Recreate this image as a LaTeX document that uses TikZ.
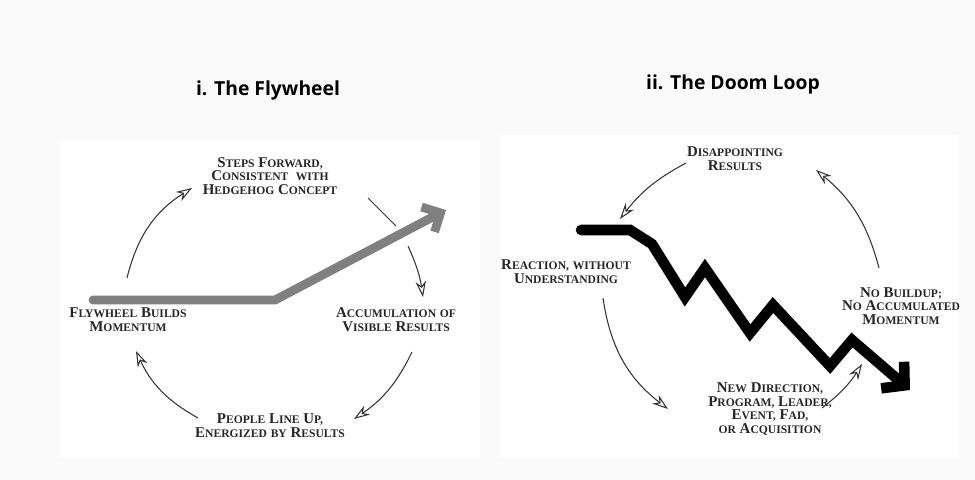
\documentclass[tikz,border=0pt]{standalone}
\usepackage{fontspec}
\setmainfont{Liberation Serif}
\newfontfamily\titlefont{Open Sans}
\usetikzlibrary{arrows.meta}
\newcommand\Sc[2]{#1{\fontsize{6.6}{7}\selectfont\MakeUppercase{#2}}}
\tikzset{
  lbl/.style={font=\bfseries\fontsize{8.5}{7.8}\selectfont, align=center, text=black!85},
  ttl/.style={font=\titlefont\bfseries\fontsize{11}{13}\selectfont},
  cyc/.style={draw=black!80, line width=0.6pt, -{Stealth[open,length=9pt,width=6pt]}},
  cycn/.style={draw=black!80, line width=0.6pt},
}
\begin{document}
\begin{tikzpicture}[x=0.02cm,y=-0.02cm]
\fill[black!2] (0,0) rectangle (975,480);
\fill[white] (60,140) rectangle (480,458);
\fill[white] (500,135) rectangle (958,458);
\node[ttl] (t1) at (268,90) {i. The Flywheel};
\node[ttl] (t2) at (733,84) {ii. The Doom Loop};
% left
\node[lbl] (a) at (270,176) {\Sc{S}{teps} \Sc{F}{orward,}\\\Sc{C}{onsistent}\ \ \Sc{}{with}\\\Sc{H}{edgehog} \Sc{C}{oncept}};
\node[lbl] (b) at (396,320) {\Sc{A}{ccumulation} \Sc{}{of}\\\Sc{V}{isible} \Sc{R}{esults}};
\node[lbl] (c) at (270,426) {\Sc{P}{eople} \Sc{L}{ine} \Sc{U}{p,}\\\Sc{E}{nergized} \Sc{}{by} \Sc{R}{esults}};
\node[lbl] (d) at (128,320) {\Sc{F}{lywheel} \Sc{B}{uilds}\\\Sc{M}{omentum}};
\coordinate (l1) at (127,278); \coordinate (l2) at (192,188);
\coordinate (l3) at (368,198); \coordinate (l4) at (396,226);
\coordinate (l5) at (408,246); \coordinate (l6) at (423,297);
\coordinate (l7) at (412,352); \coordinate (l8) at (354,419);
\coordinate (l9) at (198,418); \coordinate (l10) at (136,351);
\draw[cyc] (l1) to[bend left=22] (l2);
\draw[cycn] (l3) -- (l4);
\draw[cyc] (l5) to[bend left=8] (l6);
\draw[cyc] (l7) to[bend left=15] (l8);
\draw[cyc] (l9) to[bend left=18] (l10);
\coordinate (g1) at (93,300); \coordinate (g2) at (275,300); \coordinate (g3) at (446,210);
\draw[black!50, line width=5pt, line cap=round, -{Straight Barb[length=8pt,width=16pt,line width=5pt]}] (g1) -- (g2) -- (g3);
% right
\node[lbl] (e) at (735,159) {\Sc{D}{isappointing}\\\Sc{R}{esults}};
\node[lbl] (f) at (566,272) {\Sc{R}{eaction,} \Sc{}{without}\\\Sc{U}{nderstanding}};
\node[lbl] (g) at (901,306) {\Sc{N}{o} \Sc{B}{uildup;}\\\Sc{N}{o} \Sc{A}{ccumulated}\\\Sc{M}{omentum}};
\node[lbl] (h) at (770,409) {\Sc{N}{ew} \Sc{D}{irection,}\\\Sc{P}{rogram,} \Sc{L}{eader,}\\\Sc{E}{vent,} \Sc{F}{ad,}\\\Sc{}{or} \Sc{A}{cquisition}};
\coordinate (r1) at (686,163); \coordinate (r2) at (620,219);
\coordinate (r3) at (879,268); \coordinate (r4) at (816,170);
\coordinate (r5) at (603,298); \coordinate (r6) at (668,409);
\coordinate (r7) at (822,408); \coordinate (r8) at (862,364);
\draw[cyc] (r1) to[bend right=12] (r2);
\draw[cyc] (r3) to[bend right=18] (r4);
\draw[cyc] (r5) to[bend right=22] (r6);
\draw[cyc] (r7) to[bend right=10] (r8);
\draw[black, line width=6pt, line cap=round, line join=miter, -{Straight Barb[length=9pt,width=20pt,line width=6pt]}]
  (581,230) -- (630,230) -- (652,244) -- (685,297) -- (705,268) -- (750,333) -- (773,305) -- (830,366) -- (852,340) -- (910,390);
\end{tikzpicture}
\end{document}
